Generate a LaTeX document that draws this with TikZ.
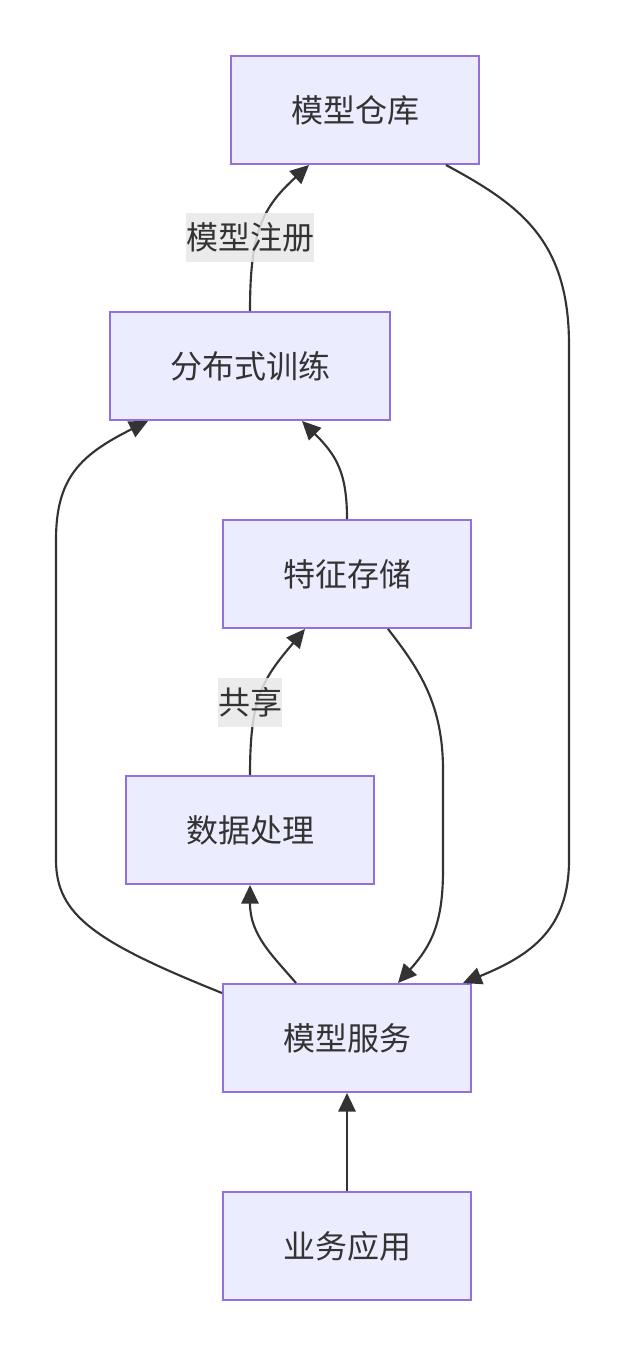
\documentclass[tikz,border=0pt]{standalone}
\usepackage{fontspec}
\setmainfont{Noto Sans CJK SC}
\usetikzlibrary{arrows.meta,calc}
\definecolor{nodefill}{HTML}{ECECFF}
\definecolor{nodeedge}{HTML}{9370DB}
\definecolor{ink}{HTML}{333333}
\definecolor{lblbg}{HTML}{E8E8E8}
\tikzset{
  box/.style={draw=nodeedge, fill=nodefill, line width=1.5pt, minimum height=81pt,
    minimum width=186pt, inner sep=0pt, text=ink, font=\fontsize{24pt}{28pt}\selectfont},
  lbl/.style={fill=lblbg, fill opacity=0.85, text opacity=1, text=ink, inner xsep=0pt,
    minimum height=36.75pt, font=\fontsize{24pt}{28pt}\selectfont},
  edge/.style={draw=ink, line width=1.6pt, -{Triangle[length=14pt,width=13pt]}}
}
\begin{document}
\begin{tikzpicture}[x=0.75pt,y=-0.75pt]
\useasboundingbox (0,0) rectangle (625,1356);
\node[box] (ck) at (355,110) {模型仓库};
\node[box, minimum width=210pt] (dt) at (250,366) {分布式训练};
\node[box] (tz) at (347,574) {特征存储};
\node[box] (dp) at (250,830) {数据处理};
\node[box] (fw) at (347,1038) {模型服务};
\node[box] (yw) at (347,1246) {业务应用};

% 分布式训练 -> 模型仓库
\draw[edge] (dt.north) .. controls (250,232) and (262,208) .. ($(ck.south)+(-46,0)$);
\node[lbl] (l1) at (250,237) {模型注册};
% 数据处理 -> 特征存储
\draw[edge] (dp.north) .. controls (250,698) and (262,680) .. ($(tz.south)+(-42,0)$);
\node[lbl] (l2) at (250,702) {共享};
% 特征存储 -> 分布式训练
\draw[edge] (tz.north) .. controls (347,472) and (336,455) .. ($(dt.south)+(52,0)$);
% 模型服务 -> 分布式训练
\draw[edge] ($(fw.west)+(0,-45)$) .. controls (95,942) and (56,915) .. (56,860)
  -- (56,540) .. controls (56,478) and (80,455) .. ($(dt.south)+(-102,0)$);
% 模型服务 -> 数据处理
\draw[edge] ($(fw.north)+(-51,0)$) .. controls (272,955) and (250,935) .. (dp.south);
% 特征存储 -> 模型服务
\draw[edge] ($(tz.south)+(41,0)$) .. controls (420,670) and (443,705) .. (443,770)
  -- (443,870) .. controls (443,922) and (432,945) .. ($(fw.north)+(51,0)$);
% 模型仓库 -> 模型服务
\draw[edge] ($(ck.south)+(91,0)$) .. controls (520,205) and (569,240) .. (569,345)
  -- (569,860) .. controls (569,928) and (532,955) .. ($(fw.north)+(116,0)$);
% 业务应用 -> 模型服务
\draw[edge] (yw.north) -- (fw.south);
\end{tikzpicture}
\end{document}
